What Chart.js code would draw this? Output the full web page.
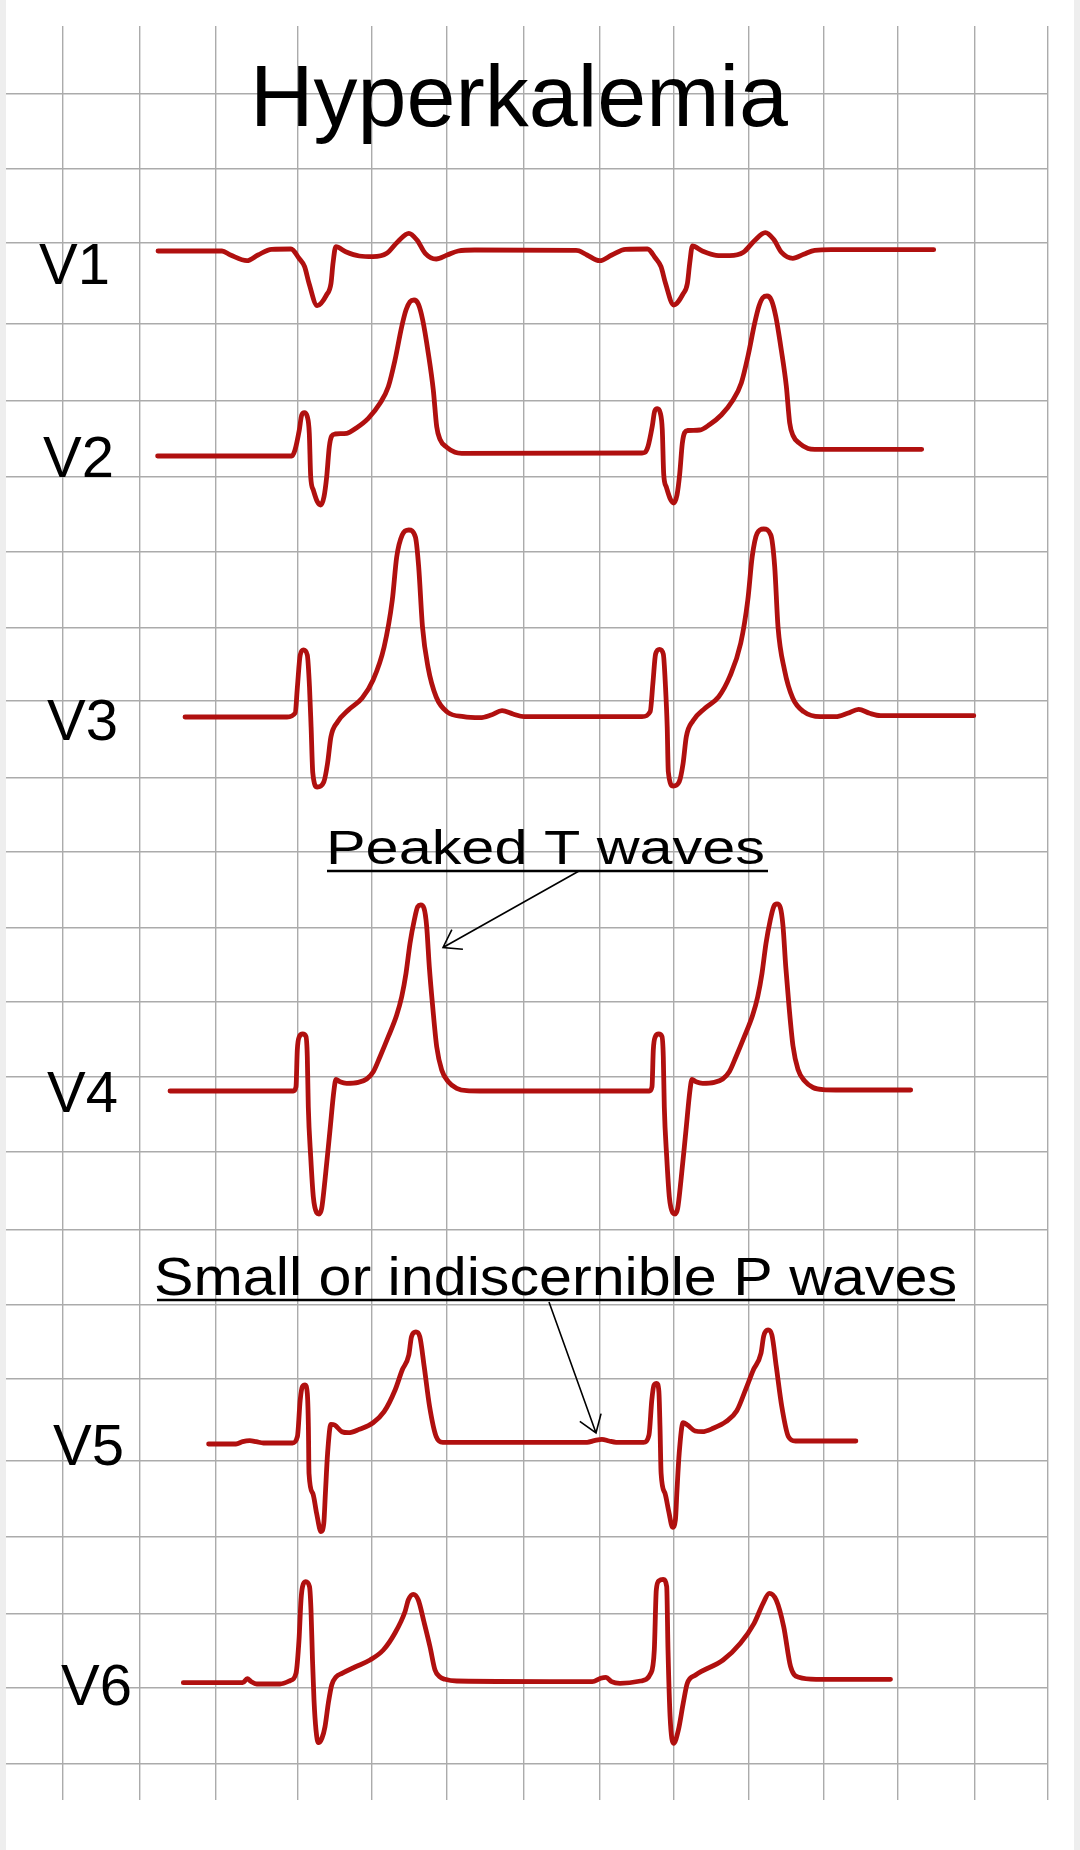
<!DOCTYPE html>
<html lang="en">
<head>
<meta charset="UTF-8">
<title>Hyperkalemia</title>
<script src="https://cdn.jsdelivr.net/npm/chart.js"></script>
<style>
    html, body {
        margin: 0;
        padding: 0;
        background: #fff;
        overflow: hidden;
    }

    #wrap {
        width: 1080px;
        height: 1850px;
    }
</style>
</head>
<body>
<div id="wrap"><canvas id="ecg" width="1080" height="1850"></canvas></div>
<script>
    // grid lines of the paper (same units as the traces)
    const gridX = [63, 140, 216, 298, 372, 447, 524, 600, 674, 749, 824, 898, 975, 1048];
    const gridY = [94, 169, 243, 324, 401, 477, 552, 628, 701, 778, 852, 928, 1002, 1077,
        1152, 1230, 1305, 1379, 1461, 1537, 1614, 1688, 1764];

    const leads = ['V1', 'V2', 'V3', 'V4', 'V5', 'V6'];
    const baselines = [251, 456, 717, 1091, 1443, 1683];

    // each trace: [x, amplitude above its baseline]
    const v1 = [[158, 0], [222, 0], [230.5, -4], [247, -9.7], [258, -4], [271.6, 1.7], [291, 2], [299, -7.3],
        [304.6, -15.7], [309, -32.3], [317.2, -54.7], [326.5, -44], [331, -32.3], [333, -12.3], [335.8, 4.3],
        [345.7, -0.7], [359.4, -5], [373, -5.7], [386.8, -2.3], [397.8, 9.3], [408.8, 17.7], [417, 11],
        [425.2, -2.3], [436.2, -8], [447.2, -4], [458.2, 0], [474.6, 1], [576, 0.7],
        [578.8, 0.3], [587, -4], [599.7, -9.7], [611.8, -4], [625.5, 1.7], [647.4, 2], [655.6, -7.3],
        [661, -15.7], [665.5, -32.3], [673.7, -54], [683, -43], [687.4, -32.3], [689.7, -12.3], [692.4, 5],
        [702.3, 0], [716, -4.3], [729.7, -4.7], [743.4, -1.3], [754.4, 10.3], [765.3, 18.3], [773.6, 11.7],
        [781.8, -1.7], [792.8, -7.3], [803.7, -3.3], [814.7, 0.7], [831.2, 1.3], [933.7, 1.3]];

    const v2 = [[157.6, 0], [291.7, 0], [295, 6], [299.3, 26], [301.7, 41], [304.3, 43.3], [307.3, 39.3],
        [309.3, 22.7], [310.7, -20.7], [313.3, -34], [317.3, -45.7], [320.7, -49], [324, -40.7], [326.7, -20.7],
        [329.3, 9.3], [331.7, 20], [335, 22], [346.7, 22.7], [356.7, 28.3], [368.3, 37.7], [380, 52.7],
        [388.3, 69.3], [395, 96], [401.7, 129.3], [406, 146], [410, 154.3], [414, 156], [418.3, 152],
        [422.7, 136], [428.3, 102.7], [433.3, 66], [436.7, 29.3], [440, 16.7], [446.7, 8.7], [455, 3.7],
        [461.7, 2.7], [642, 3],
        [644.7, 3.5], [648, 9.5], [652.3, 30], [654.7, 45], [657.3, 47.3], [660.3, 43], [662.3, 26], [663.7, -18],
        [666.3, -31], [670.3, -43], [673.7, -47], [677, -39], [679.7, -18], [682.3, 12.5], [684.7, 23.5],
        [688, 25.5], [699.7, 26], [709.7, 31.5], [721.3, 41], [733, 56], [741.3, 73], [748, 100], [754.7, 133],
        [759, 150], [763, 158.5], [767, 160], [771.3, 156], [775.7, 140], [781.3, 106], [786.3, 70], [789.7, 33],
        [793, 20.5], [799.7, 12.5], [808, 7.5], [814.7, 6.7], [921.7, 6.7]];

    const v3 = [[185, 0], [287, 0], [295.2, 4], [297.4, 30], [300.2, 62], [303.5, 67], [307.3, 62], [309.5, 30],
        [311.1, -10], [312.8, -56], [317.2, -70], [323.8, -65], [327.6, -46], [330.9, -20], [337.5, -5],
        [348.4, 7], [362.2, 19], [373.1, 37], [384.1, 70], [392.3, 117], [396.7, 160], [402.2, 182],
        [408.8, 187], [415.4, 180], [418.7, 150], [422.5, 90], [428, 50], [436.2, 20], [447.2, 5],
        [463.6, 0.3], [480.1, -0.7], [491.1, 2], [502, 6.3], [513, 3], [524, 0.3], [642, 0.3],
        [650.2, 5.3], [652.9, 33.7], [655.6, 63], [659.5, 67.7], [663.3, 63], [665.5, 30.3], [667.2, -9.7],
        [668.3, -54.7], [673.2, -69], [679.2, -64.7], [683.1, -46.3], [686.3, -19.7], [693, -3.7], [705, 8.7],
        [718.7, 20.3], [729.7, 40.3], [740.7, 73.7], [747.8, 117], [752.2, 160.3], [757.1, 183.7], [763.7, 188],
        [770.8, 182], [774.7, 150.3], [778, 90.3], [784.5, 47], [792.8, 18.7], [803.7, 5.3], [820.2, 0.3],
        [835.6, 0.3], [847.6, 3.7], [858.6, 7.7], [869.6, 3.7], [880.5, 1.3], [973.8, 1.3]];

    const v4 = [[170, 0], [293.3, 0], [296, 4.3], [297.3, 41], [299.3, 54.3], [302.7, 57], [306, 54.3],
        [307.3, 34.3], [308.3, -15.7], [310.7, -65.7], [313.3, -105.7], [316.7, -121.7], [319, -123],
        [321.7, -117.3], [325, -89], [330, -39], [334, 1], [336, 11.7], [340, 9.3], [346.7, 7.7], [358.3, 8.7],
        [366.7, 12], [373.3, 19.3], [380, 34.3], [388.3, 54.3], [396.7, 76], [401.7, 94.3], [406, 117.7],
        [410, 147.7], [414.3, 171], [417.7, 184.3], [420.7, 186], [424, 182.7], [426.7, 164.3], [429.3, 124.3],
        [432.7, 84.3], [436.7, 44.3], [441.7, 21], [448.3, 9.3], [456.7, 2.7], [466.7, 0.3], [480, 0],
        [649.3, 0], [652, 4.3], [653.3, 41], [655.3, 54.3], [658.7, 57], [662, 54.3], [663.3, 34.3],
        [664.3, -15.7], [666.7, -65.7], [669.3, -105.7], [672.7, -121.7], [675, -123], [677.7, -117.3],
        [681, -89], [686, -39], [690, 1], [692, 11.7], [696, 9.3], [702.7, 7.7], [714.3, 8.7], [722.7, 12],
        [729.3, 19.3], [736, 34.3], [744.3, 54.3], [752.7, 76], [757.7, 94.3], [762, 117.7], [766, 147.7],
        [770.3, 171], [773.7, 184.3], [777, 187], [780.3, 183.5], [783, 165], [785.7, 125], [789, 85], [793, 45],
        [798, 21.5], [804.7, 10], [813, 3.5], [823, 1.3], [836, 1], [910.7, 1]];

    const v5 = [[208.6, -1], [236, -1], [242.6, 1.3], [249.7, 2.3], [256.3, 1.3], [263.4, 0], [292.5, 0],
        [297.4, 6.3], [300.2, 43], [302.4, 56.3], [305.1, 58], [307.3, 49.7], [308.4, 16.3], [309, -30.3],
        [312.8, -50.3], [316.6, -70.3], [321, -88.7], [323.8, -80.3], [325.4, -50.3], [327.6, -10.3],
        [330.9, 18.7], [334.7, 18], [341.9, 11.3], [348.4, 10.3], [359.4, 13.7], [373.1, 20.3], [384.1, 31.3],
        [395.1, 53], [402.2, 73], [408.8, 88], [411.5, 106.3], [415.9, 111], [419.8, 106.3], [424.2, 76.3],
        [429.6, 36.3], [436.2, 6.3], [442.8, 0.7], [449.9, 0.7], [587.1, 0.7], [594.2, 2.3], [601.9, 3.7],
        [609, 2], [616.1, 0.7], [643.6, 0.7],
        [649, 8], [651.8, 43], [654, 58], [656.7, 59.7], [658.9, 51.3], [660, 16.3], [661.1, -30.3], [665, -50.3],
        [668.8, -68.7], [672.6, -84.3], [675.4, -77], [677, -47], [679.2, -10.3], [683.1, 20.3], [687.4, 18],
        [695.1, 12], [702.3, 11.3], [713.2, 14.7], [725.9, 21.3], [736.8, 32.3], [746.1, 54.7], [753.3, 73],
        [761, 89.7], [763.7, 107], [768.1, 113], [771.9, 108], [776.3, 76.3], [781.8, 36.3], [788.4, 6.3],
        [795.5, 2], [855.9, 2]];

    const v6 = [[183.3, 0.3], [242.7, 0.3], [247.3, 4.3], [251, 1.5], [256.7, -1], [280, -1], [290, 2.3],
        [296, 9.7], [299, 43], [301, 83], [302.5, 96.3], [305.7, 101.3], [309.5, 96.3], [311, 73], [312.5, 23],
        [314, -17], [316, -47], [318.3, -59.7], [322, -55], [325, -43.7], [328.3, -20.3], [331.7, -2], [336, 6],
        [342, 9.7], [355, 16], [370, 23], [383.3, 33], [395, 50], [405, 71.3], [408.3, 83], [413.3, 88.7],
        [418.3, 83], [424, 61], [430, 36.3], [435, 13], [440, 6], [445, 3.7], [456.7, 2], [592.3, 1.3],
        [600.6, 4.7], [606, 5.7], [611.6, 1.3], [620, -0.3], [640.5, 2],
        [650.8, 9.7], [654.3, 33], [656.3, 93], [659.1, 102.3], [663.2, 103.7], [666.7, 96.3], [668, 33],
        [670.1, -33.7], [673.6, -60.3], [678.4, -47], [683.2, -20.3], [687.3, -0.3], [695.6, 8], [723.1, 23],
        [740.4, 39.7], [754.1, 59.7], [763.1, 79.7], [769.3, 89.7], [776.2, 83], [783.7, 56.3], [790.6, 16.3],
        [798.9, 5.7], [816.1, 3.7], [890.5, 3.7]];

    const traces = [v1, v2, v3, v4, v5, v6];

    // callouts: text, then arrow [from, to]
    const titleText = 'Hyperkalemia';
    const notes = ['Peaked T waves', 'Small or indiscernible P waves'];
    const noteArrows = [[[579, 871], [443, 947.5]], [[549, 1302], [596, 1433]]];

    const TRACE_RED = '#b0100f';

    // draws title, lead names, notes and arrows on top of the paper
    const sketchText = {
        id: 'sketchText',
        beforeDraw(chart) {
            const ctx = chart.ctx;
            ctx.save();
            ctx.fillStyle = '#ffffff';
            ctx.fillRect(0, 0, chart.width, chart.height);
            ctx.fillStyle = '#eeeeee';
            ctx.fillRect(0, 0, 6, chart.height);
            ctx.fillRect(chart.width - 6, 0, 6, chart.height);
            ctx.restore();
        },
        afterDatasetsDraw(chart, args, opts) {
            const ctx = chart.ctx;
            const xs = chart.scales.x;
            const ys = chart.scales.y;
            const px = v => xs.getPixelForValue(v);
            const py = v => ys.getPixelForValue(v);

            ctx.save();
            ctx.fillStyle = '#000';
            ctx.strokeStyle = '#000';
            ctx.textBaseline = 'alphabetic';

            // title
            ctx.font = '88px "Liberation Sans", Arial, sans-serif';
            ctx.textAlign = 'center';
            ctx.fillText(titleText, px(opts.title.x), py(opts.title.y));

            // lead names
            ctx.font = '58px "Liberation Sans", Arial, sans-serif';
            ctx.textAlign = 'left';
            leads.forEach((name, i) => {
                const p = opts.leadLabels[i];
                ctx.fillText(name, px(p[0]), py(p[1]));
            });

            // notes, stretched like the sketch, underlined
            notes.forEach((text, i) => {
                const n = opts.notes[i];
                ctx.font = n.size + 'px "Liberation Sans", Arial, sans-serif';
                const w = ctx.measureText(text).width;
                const left = px(n.x0);
                const right = px(n.x1);
                ctx.save();
                ctx.translate(left, py(n.y));
                ctx.scale((right - left) / w, 1);
                ctx.fillText(text, 0, 0);
                ctx.restore();
                ctx.lineWidth = 2.5;
                ctx.beginPath();
                ctx.moveTo(px(n.u0), py(n.uy));
                ctx.lineTo(px(n.u1), py(n.uy));
                ctx.stroke();
            });

            // arrows with open heads
            ctx.lineWidth = 1.6;
            noteArrows.forEach(([a, b]) => {
                const x1 = px(a[0]), y1 = py(a[1]);
                const x2 = px(b[0]), y2 = py(b[1]);
                const ang = Math.atan2(y1 - y2, x1 - x2);
                const len = 20, spread = 0.6;
                ctx.beginPath();
                ctx.moveTo(x1, y1);
                ctx.lineTo(x2, y2);
                ctx.moveTo(x2 + len * Math.cos(ang + spread), y2 + len * Math.sin(ang + spread));
                ctx.lineTo(x2, y2);
                ctx.lineTo(x2 + len * Math.cos(ang - spread), y2 + len * Math.sin(ang - spread));
                ctx.stroke();
            });
            ctx.restore();
        }
    };

    const ctx = document.getElementById('ecg').getContext('2d');
    new Chart(ctx, {
        type: 'line',
        data: {
            datasets: leads.map((name, i) => ({
                label: name,
                data: traces[i].map(([x, a]) => ({ x: x, y: baselines[i] - a })),
                borderColor: TRACE_RED,
                borderWidth: 4.8,
                pointRadius: 0,
                cubicInterpolationMode: 'monotone',
                borderJoinStyle: 'round',
                borderCapStyle: 'round',
                fill: false
            }))
        },
        options: {
            responsive: false,
            animation: false,
            events: [],
            layout: {
                padding: { left: 6, right: 32, top: 26, bottom: 50 }
            },
            plugins: {
                legend: { display: false },
                tooltip: { enabled: false },
                sketchText: {
                    title: { x: 519, y: 126 },
                    leadLabels: [[39, 284], [43, 477], [47, 740], [47, 1112], [53, 1465], [61, 1705]],
                    notes: [
                        { size: 48, x0: 326, x1: 765, y: 864, u0: 327, u1: 768, uy: 871 },
                        { size: 54, x0: 154, x1: 957, y: 1295, u0: 157, u1: 955, uy: 1300 }
                    ]
                }
            },
            scales: {
                x: {
                    type: 'linear',
                    min: 6,
                    max: 1048,
                    border: { display: false },
                    ticks: { display: false },
                    grid: { color: '#ababab', lineWidth: 1.4, drawTicks: false },
                    afterBuildTicks: scale => {
                        scale.ticks = gridX.map(v => ({ value: v }));
                    }
                },
                y: {
                    type: 'linear',
                    reverse: true,
                    min: 26,
                    max: 1800,
                    border: { display: false },
                    ticks: { display: false },
                    grid: { color: '#ababab', lineWidth: 1.4, drawTicks: false },
                    afterBuildTicks: scale => {
                        scale.ticks = gridY.map(v => ({ value: v }));
                    }
                }
            }
        },
        plugins: [sketchText]
    });
</script>
</body>
</html>
